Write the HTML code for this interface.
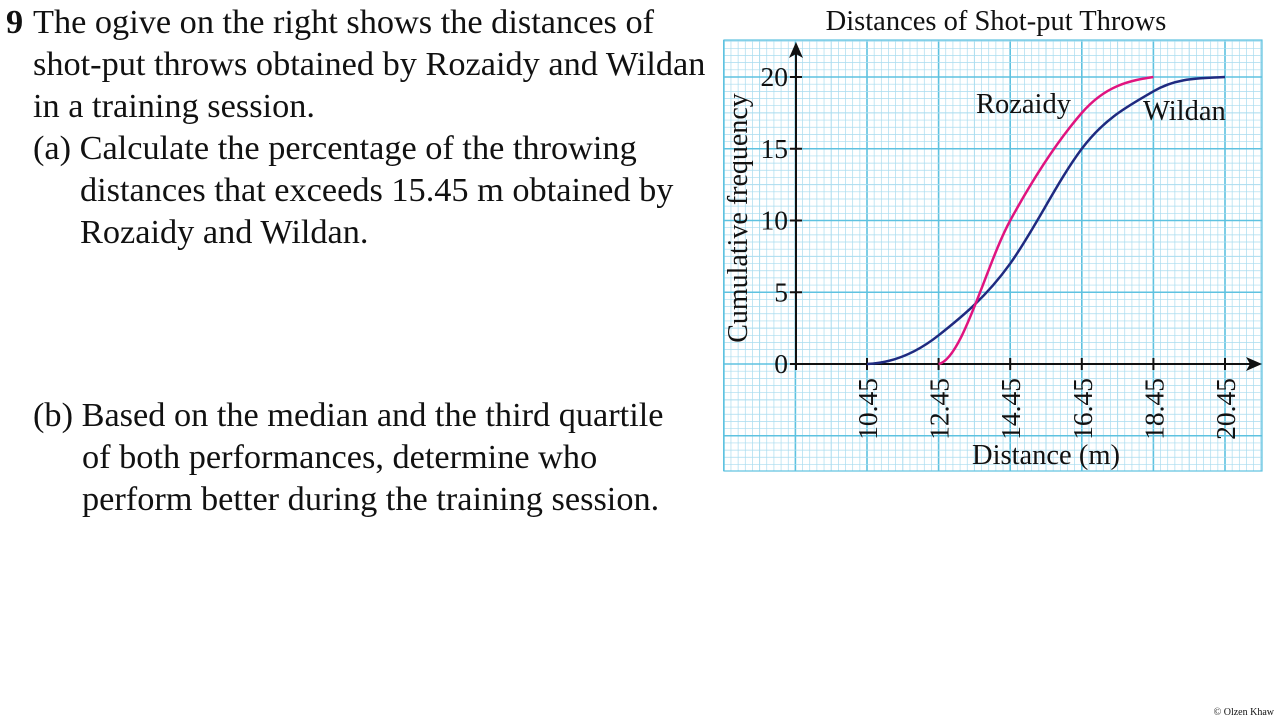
<!DOCTYPE html>
<html><head><meta charset="utf-8"><style>
body{margin:0;width:1280px;height:720px;background:#fff;overflow:hidden;position:relative;font-family:"Liberation Serif",serif;color:#111}
.t{position:absolute;font-size:34.3px;white-space:nowrap;line-height:42px}
</style></head><body>
<div>
<div class="t" style="left:6px;top:1px"><b>9</b></div>
<div class="t" style="left:33px;top:1px">The ogive on the right shows the distances of</div>
<div class="t" style="left:33px;top:43px">shot-put throws obtained by Rozaidy and Wildan</div>
<div class="t" style="left:33px;top:85px">in a training session.</div>
<div class="t" style="left:33px;top:127px">(a) Calculate the percentage of the throwing</div>
<div class="t" style="left:80px;top:169px">distances that exceeds 15.45 m obtained by</div>
<div class="t" style="left:80px;top:211px">Rozaidy and Wildan.</div>
<div class="t" style="left:33px;top:394px">(b) Based on the median and the third quartile</div>
<div class="t" style="left:82px;top:436px">of both performances, determine who</div>
<div class="t" style="left:82px;top:478px">perform better during the training session.</div>
</div>
<div style="position:absolute;right:6px;top:707px;font-size:10px">© Olzen Khaw</div>
<svg id="c" width="1280" height="720" style="position:absolute;left:0;top:0" font-family="Liberation Serif, serif"></svg>
<script>
const xCats=[10.45,12.45,14.45,16.45,18.45,20.45];
const xTickLabels=["10.45","12.45","14.45","16.45","18.45","20.45"];
const yTicks=[0,5,10,15,20];
const wildanX=[10.45,12.45,14.45,16.45,18.45,20.45];
const wildanY=[0,2,7,15,19,20];
const rozaidyX=[12.45,14.45,16.45,18.45];
const rozaidyY=[0,10,17.5,20];
const NS="http://www.w3.org/2000/svg";
const svg=document.getElementById('c');
const X=v=>867+(v-10.45)*35.8;
const Y=v=>364-v*14.35;
function mk(t,a,p){const e=document.createElementNS(NS,t);for(const k in a)e.setAttribute(k,a[k]);(p||svg).appendChild(e);return e;}
const g=mk('g',{});


const x0=724,x1=1262,y0=40,y1=471;
for(let i=-50;i<=60;i++){const x=X(10.45+i*0.2);if(x<x0-0.5||x>x1+0.5)continue;const maj=i%10==0,mid=i%5==0;
mk('line',{x1:x,y1:y0,x2:x,y2:y1,stroke:maj?'#5ec2e0':'#a9dcef','stroke-width':maj?1.6:(mid?1:0.7)},g);}
for(let i=-20;i<=60;i++){const y=Y(i*0.5);if(y<y0-0.5||y>y1+0.5)continue;const maj=i%10==0,mid=i%5==0;
mk('line',{x1:x0,y1:y,x2:x1,y2:y,stroke:maj?'#5ec2e0':'#a9dcef','stroke-width':maj?1.6:(mid?1:0.7)},g);}
mk('rect',{x:x0,y:y0,width:x1-x0,height:y1-y0,fill:'none',stroke:'#5ec2e0','stroke-width':1.2},g);
const ax=mk('line',{x1:790,y1:364,x2:1255,y2:364,stroke:'#111','stroke-width':2});

const xa=mk('path',{d:'M1262 364 L1246 357 L1250 364 L1246 371 Z',fill:'#111'});

const ay=mk('line',{x1:796,y1:370,x2:796,y2:50,stroke:'#111','stroke-width':2});

const ya=mk('path',{d:'M796 42 L789 58 L796 54 L803 58 Z',fill:'#111'});

xCats.forEach((v,i)=>{const x=X(v);
const tk=mk('line',{x1:x,y1:358,x2:x,y2:370,stroke:'#111','stroke-width':2});

const t=mk('text',{x:0,y:0,transform:`translate(${x+10},378) rotate(-90)`,'text-anchor':'end','font-size':27.5,fill:'#111'});
t.textContent=xTickLabels[i];
});
yTicks.forEach(v=>{const y=Y(v);
const tk=mk('line',{x1:790,y1:y,x2:802,y2:y,stroke:'#111','stroke-width':2});

const t=mk('text',{x:788,y:y+9,'text-anchor':'end','font-size':27.5,fill:'#111'});t.textContent=v;
});
function curve(xs,ys){const n=xs.length,px=xs.map(X),py=ys.map(Y);const d=[],m=[];
for(let i=0;i<n-1;i++)d.push((ys[i+1]-ys[i])/(xs[i+1]-xs[i]));
for(let i=1;i<n-1;i++){const a=Math.max(d[i-1],d[i]),b=Math.min(d[i-1],d[i]);m[i]=0.65*a+0.35*b;}
m[0]=d[0]*0.1;m[n-1]=d[n-2]*0.3;
let s=`M${px[0]} ${py[0]}`;
for(let i=0;i<n-1;i++){const h=xs[i+1]-xs[i];
s+=` C${X(xs[i]+h/3)} ${Y(ys[i]+m[i]*h/3)} ${X(xs[i+1]-h/3)} ${Y(ys[i+1]-m[i+1]*h/3)} ${px[i+1]} ${py[i+1]}`;}
return s;}
const w=mk('path',{d:curve(wildanX,wildanY),fill:'none',stroke:'#1f2a80','stroke-width':2.5});

const r=mk('path',{d:curve(rozaidyX,rozaidyY),fill:'none',stroke:'#e0147f','stroke-width':2.5});

function txt(s,a,name){const t=mk('text',a);t.textContent=s;return t;}
txt('Rozaidy',{x:976,y:113,'font-size':28.5,fill:'#111'},'rozaidy-label');
txt('Wildan',{x:1143,y:120,'font-size':28.5,fill:'#111'},'wildan-label');
txt('Distances of Shot-put Throws',{x:996,y:30,'text-anchor':'middle','font-size':28.5,fill:'#111'},'chart-title');
txt('Distance (m)',{x:1046,y:464,'text-anchor':'middle','font-size':28.5,fill:'#111'},'x-axis-title');
txt('Cumulative frequency',{x:0,y:0,transform:'translate(747,218) rotate(-90)','text-anchor':'middle','font-size':28,fill:'#111'},'y-axis-title');
</script>
</body></html>
